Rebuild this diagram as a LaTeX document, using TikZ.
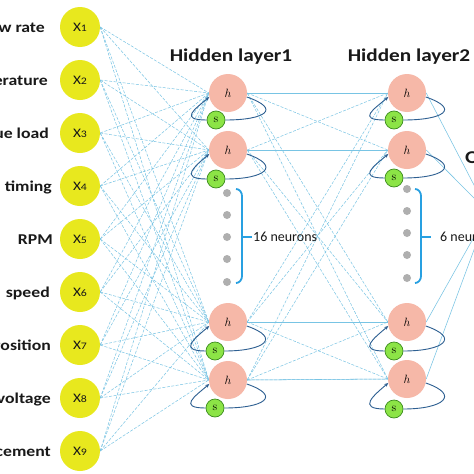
\documentclass[tikz,border=0pt]{standalone}
\usepackage{fontspec}
\newfontfamily\stfont[FakeStretch=1.18]{Carlito}
\newfontfamily\plfont{Carlito}
\usetikzlibrary{arrows.meta}
\pgfdeclarelayer{bg}
\pgfsetlayers{bg,main}
\definecolor{inyellow}{RGB}{232,232,30}
\definecolor{hfill}{RGB}{246,184,168}
\definecolor{sfill}{RGB}{140,228,70}
\definecolor{sdraw}{RGB}{60,140,30}
\definecolor{conn}{RGB}{120,196,228}
\definecolor{loopc}{RGB}{45,95,145}
\definecolor{bracec}{RGB}{40,160,225}
\definecolor{dotc}{RGB}{175,175,175}
\definecolor{txt}{RGB}{25,25,25}
\begin{document}
\begin{tikzpicture}[x=1pt,y=-1pt,
  inode/.style={circle,fill=inyellow,minimum size=40pt,inner sep=0pt,text=txt,font=\stfont\fontsize{13}{13}\selectfont},
  hnode/.style={circle,fill=hfill,minimum size=38pt,inner sep=0pt,font=\fontsize{13}{13}\selectfont},
  snode/.style={circle,fill=sfill,draw=sdraw,line width=0.7pt,minimum size=18pt,inner sep=0pt,font=\rmfamily\fontsize{12}{12}\selectfont},
  dotn/.style={circle,fill=dotc,minimum size=8pt,inner sep=0pt},
  lbl/.style={anchor=base east,text=txt,inner sep=0pt,font=\stfont\bfseries\fontsize{15}{15}\selectfont},
  ttl/.style={anchor=base,text=txt,inner sep=0pt,font=\stfont\bfseries\fontsize{18}{18}\selectfont},
  cnt/.style={anchor=base west,text=txt,inner sep=0pt,font=\plfont\fontsize{14}{14}\selectfont},
  inl/.style={draw=conn,line width=0.5pt,dash pattern=on 3pt off 1.5pt},
  hidl/.style={draw=conn,line width=0.55pt},
  hidd/.style={draw=conn,line width=0.5pt,dash pattern=on 3pt off 1.5pt},
  loopl/.style={draw=loopc,line width=0.9pt},
  brc/.style={draw=bracec,line width=1.8pt}]
\useasboundingbox (0,0) rectangle (474,474);

% input nodes and labels
\foreach \i/\y in {1/27,2/80,3/133,4/186,5/239,6/292,7/345,8/398,9/451}{
  \node[inode] (x\i) at (80,\y) {X{\fontsize{10}{10}\selectfont\i}};
}
\node[lbl] (l1) at (45,32) {Flow rate};
\node[lbl] (l2) at (48,85) {Temperature};
\node[lbl] (l3) at (49,138) {Torque load};
\node[lbl] (l4) at (52,191) {timing};
\node[lbl] (l5) at (53,244) {RPM};
\node[lbl] (l6) at (50,297) {speed};
\node[lbl] (l7) at (51,350) {Position};
\node[lbl] (l8) at (51,403) {voltage};
\node[lbl] (l9) at (51,456) {Displacement};

% titles
\node[ttl] (t1) at (231,61) {Hidden layer1};
\node[ttl] (t2) at (409,61) {Hidden layer2};
\node[ttl,anchor=base west] (t3) at (465,163) {Output layer};

% hidden layer 1
\node[hnode] (h1a) at (228,93) {$h$};
\node[hnode] (h1b) at (228,150) {$h$};
\node[hnode] (h1c) at (228,322) {$h$};
\node[hnode] (h1d) at (228,380) {$h$};
\node[snode] (s1a) at (216,120) {s};
\node[snode] (s1b) at (216,179) {s};
\node[snode] (s1c) at (215,351) {s};
\node[snode] (s1d) at (215,408) {s};
% hidden layer 2
\node[hnode] (h2a) at (407,93) {$h$};
\node[hnode] (h2b) at (407,150) {$h$};
\node[hnode] (h2c) at (407,322) {$h$};
\node[hnode] (h2d) at (407,379) {$h$};
\node[snode] (s2a) at (394,120) {s};
\node[snode] (s2b) at (394,178) {s};
\node[snode] (s2c) at (394,351) {s};
\node[snode] (s2d) at (394,409) {s};

% dots
\foreach \k/\y in {1/193,2/215,3/237,4/259,5/282}{\node[dotn] (da\k) at (227,\y) {};}
\foreach \k/\y in {1/189,2/211,3/233,4/255,5/278}{\node[dotn] (db\k) at (407,\y) {};}

% braces
\draw[brc] (236,189) to[out=0,in=90] (242,196) -- (242,276) to[out=-90,in=0] (236,283);
\draw[brc,line width=1.5pt] (242,237) -- (252,237);
\node[cnt] (n1) at (253,241) {16 neurons};
\draw[brc] (415,189) to[out=0,in=90] (421,196) -- (421,276) to[out=-90,in=0] (415,283);
\draw[brc,line width=1.5pt] (421,237) -- (431,237);
\node[cnt] (n2) at (440,241) {6 neurons};

\coordinate (out) at (488,212);

\begin{pgfonlayer}{bg}
  \fill[white] (0,0) rectangle (474,474);
  \foreach \i in {1,...,9}{
    \foreach \j in {a,b,c,d}{
      \draw[inl] (x\i.east) -- (h1\j.west);
    }
  }
  \foreach \i in {a,b,c,d}{
    \foreach \j in {a,b,c,d}{
      \draw[hidd] (h1\i.east) -- (h2\j.west);
    }
    \draw[hidl] (h1\i.east) -- (h2\i.west);
    \draw[hidl] (h2\i.east) -- (out);
  }
\end{pgfonlayer}

% recurrent loops
\foreach \h/\s in {h1a/s1a,h1b/s1b,h1c/s1c,h1d/s1d,h2a/s2a,h2b/s2b,h2c/s2c,h2d/s2d}{
  \draw[loopl] (\h.-12) .. controls +(35,12) and +(40,0) .. (\s.east);
  \draw[loopl,-{Stealth[length=4pt,width=3.5pt]}] (\s.west) .. controls +(-28,0) and +(-14,12) .. (\h.192);
}
\end{tikzpicture}
\end{document}
